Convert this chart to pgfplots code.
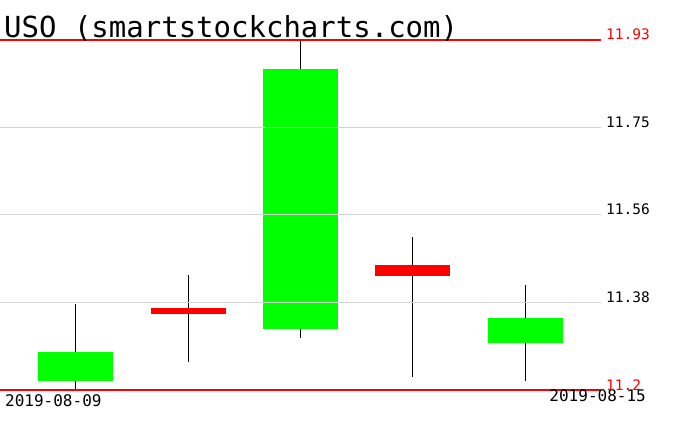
\documentclass[border=0pt]{standalone}
\usepackage{pgfplots}
\pgfplotsset{compat=1.18}
\usepackage{pgfplotstable}
\usepackage{fontspec}
\setmainfont{DejaVu Sans Mono}
\definecolor{upg}{HTML}{00FF00}
\definecolor{dnr}{HTML}{FF0000}
\definecolor{gridg}{HTML}{D3D3D3}
\pgfplotstableread{
x open high low close
0 11.219 11.379 11.200 11.279
2 11.328 11.930 11.309 11.870
4 11.298 11.418 11.219 11.350
}\upcandles
\pgfplotstableread{
x open high low close
1 11.371 11.439 11.258 11.359
3 11.461 11.519 11.227 11.438
}\downcandles
\begin{document}
\begin{tikzpicture}
\useasboundingbox (0,0) rectangle (676bp,431bp);
\begin{axis}[
  at={(0,41bp)}, anchor=south west,
  scale only axis, width=601bp, height=350bp,
  xmin=-0.673, xmax=4.673, ymin=11.2, ymax=11.93,
  separate axis lines,
  every outer x axis line/.style={draw=none},
  every outer y axis line/.style={draw=none},
  axis line style={draw=none},
  tick style={draw=none},
  xtick=\empty,
  ytick={11.3825,11.565,11.7475},
  yticklabels={11.38,11.56,11.75},
  extra y ticks={11.2,11.93},
  extra y tick labels={11.2,11.93},
  extra y tick style={grid=none, yticklabel style={text=dnr}},
  ymajorgrids, grid style={gridg, line width=1bp},
  yticklabel pos=right,
  yticklabel style={anchor=base west, inner sep=0pt, xshift=5bp, font=\fontsize{14.5bp}{16bp}\selectfont},
  axis on top, clip=false,
]
\addplot[draw=none, mark=none, forget plot,
  error bars/.cd, y dir=plus, y explicit, error mark=none,
  error bar style={black, line width=1bp}]
  table[x=x, y=low, y error plus expr=\thisrow{high}-\thisrow{low}] {\upcandles};
\addplot[draw=none, mark=none, forget plot,
  error bars/.cd, y dir=plus, y explicit, error mark=none,
  error bar style={black, line width=1bp}]
  table[x=x, y=low, y error plus expr=\thisrow{high}-\thisrow{low}] {\downcandles};
\addplot[draw=none, mark=none, forget plot,
  error bars/.cd, y dir=plus, y explicit, error mark=none,
  error bar style={upg, line width=75bp}]
  table[x=x, y=open, y error plus expr=\thisrow{close}-\thisrow{open}] {\upcandles};
\addplot[draw=none, mark=none, forget plot,
  error bars/.cd, y dir=plus, y explicit, error mark=none,
  error bar style={dnr, line width=75bp}]
  table[x=x, y=close, y error plus expr=\thisrow{open}-\thisrow{close}] {\downcandles};
\addplot[color=dnr, line width=1.2bp, mark=none, forget plot] coordinates {(-0.673,11.93) (4.673,11.93)};
\addplot[color=dnr, line width=1.2bp, mark=none, forget plot] coordinates {(-0.673,11.2) (4.673,11.2)};
\node[anchor=base west, inner sep=0pt, xshift=4bp, yshift=2bp, text=black, font=\fontsize{29bp}{31bp}\selectfont] at (rel axis cs:0,1) {USO (smartstockcharts.com)};
\node[anchor=base west, inner sep=0pt, xshift=5bp, yshift=-16bp, font=\fontsize{16bp}{18bp}\selectfont] at (rel axis cs:0,0) {2019-08-09};
\node[anchor=base east, inner sep=0pt, xshift=45bp, yshift=-11bp, font=\fontsize{16bp}{18bp}\selectfont] at (rel axis cs:1,0) {2019-08-15};
\end{axis}
\end{tikzpicture}
\end{document}
